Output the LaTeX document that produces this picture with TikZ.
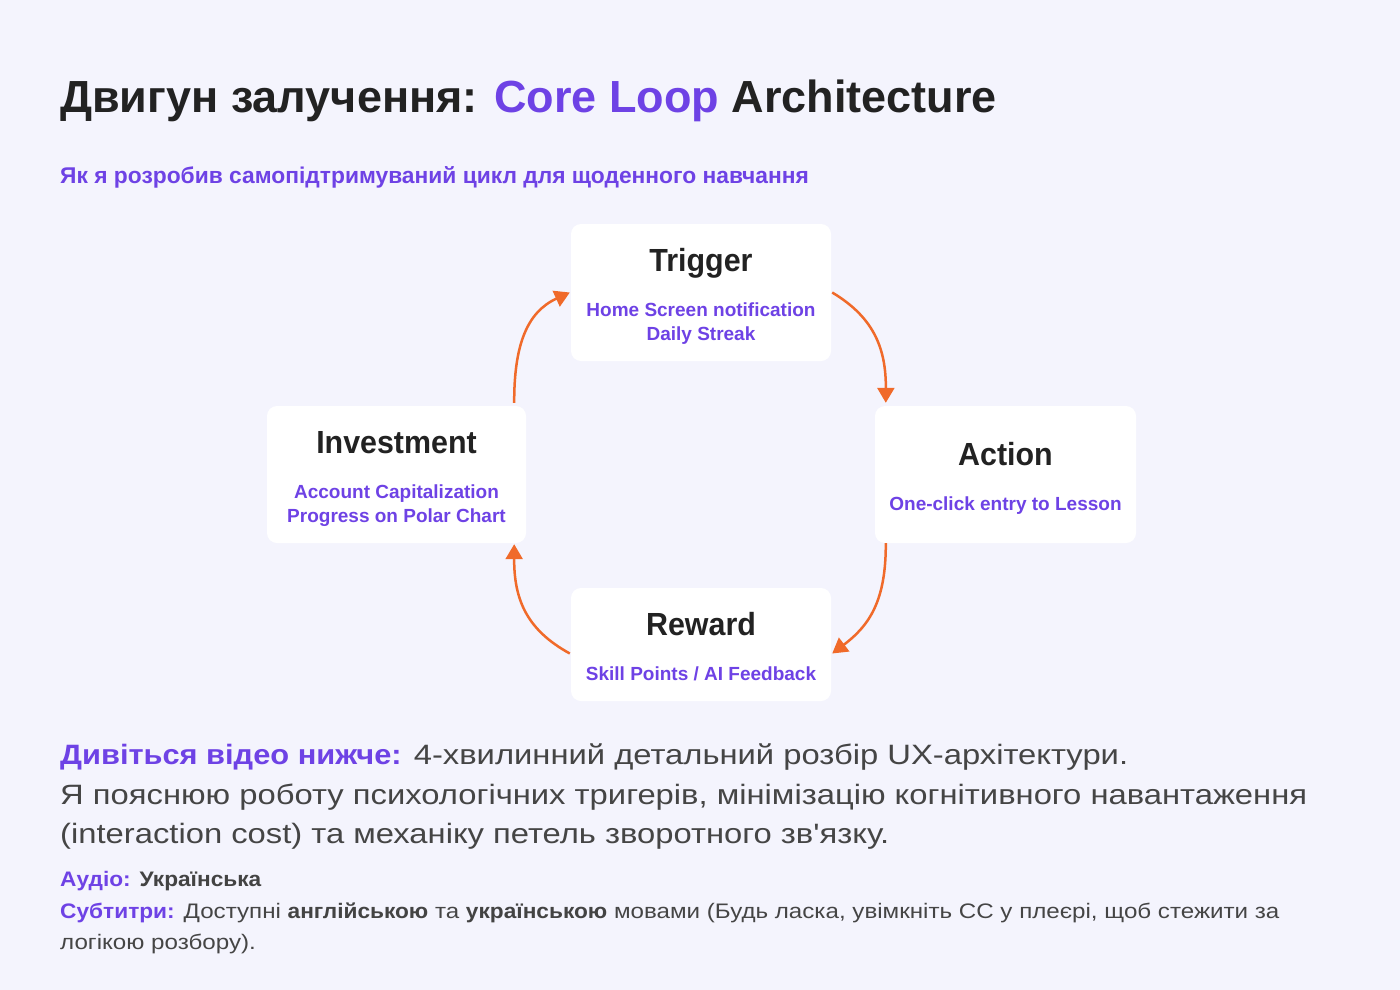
\documentclass[tikz,border=0pt]{standalone}
\usepackage{fontspec}
\setmainfont{Liberation Sans}[Ligatures=TeXOff]
\newfontfamily\bodyr{Liberation Sans}[FakeStretch=1.17,Ligatures=TeXOff]
\newfontfamily\smallr{Liberation Sans}[FakeStretch=1.15,Ligatures=TeXOff]
\newfontfamily\bodyb{Liberation Sans}[FakeStretch=1.10,Ligatures=TeXOff]
\newfontfamily\smallb{Liberation Sans}[FakeStretch=1.08,Ligatures=TeXOff]
\newfontfamily\ttlf{Liberation Sans}[FakeStretch=0.95]
\usetikzlibrary{arrows.meta,calc}
\definecolor{bg}{HTML}{F4F4FD}
\definecolor{pur}{HTML}{6E42E5}
\definecolor{org}{HTML}{F06A2A}
\definecolor{dark}{HTML}{222222}
\definecolor{body}{HTML}{454545}
\tikzset{
  card/.style={fill=white,draw=none,rounded corners=10pt,inner sep=0pt},
  ttl/.style={anchor=base,font=\ttlf\fontsize{32}{36}\selectfont\bfseries,text=dark,inner sep=0pt},
  sub/.style={anchor=base,font=\fontsize{19}{23}\selectfont\bfseries,text=pur,inner sep=0pt},
  flow/.style={draw=org,line width=2.5pt,-{Triangle[length=15pt,width=17pt]}},
  txt/.style={anchor=base west,inner sep=0pt},
  bodytxt/.style={txt,font=\bodyr\fontsize{28}{34}\selectfont,text=body},
  smalltxt/.style={txt,font=\smallr\fontsize{21}{26}\selectfont,text=body},
}
\newcommand{\hl}[1]{{\bodyb\bfseries\color{pur}#1}}
\newcommand{\shl}[1]{{\smallb\bfseries\color{pur}#1}}
\newcommand{\bd}[1]{{\smallb\bfseries\color{dark!85}#1}}
\begin{document}
\begin{tikzpicture}[x=1pt,y=-1pt]
\fill[bg] (0,0) rectangle (1400,990);
\useasboundingbox (0,0) rectangle (1400,990);
% title
\node[txt,font=\fontsize{45}{50}\selectfont\bfseries,text=dark] (title) at (60,112)
  {Двигун залучення: \textcolor{pur}{Core Loop} Architecture};
\node[txt,font=\fontsize{22.8}{26}\selectfont\bfseries,text=pur] (subtitle) at (60,183)
  {Як я розробив самопідтримуваний цикл для щоденного навчання};
% cards
\node[card,minimum width=260pt,minimum height=137pt] (T) at (701,292.5) {};
\node[card,minimum width=259pt,minimum height=137pt] (I) at (396.5,474.5) {};
\node[card,minimum width=261pt,minimum height=137pt] (A) at (1005.5,474.5) {};
\node[card,minimum width=260pt,minimum height=113pt] (R) at (701,644.5) {};
% card texts
\node[ttl] (Tt) at (701,271) {Trigger};
\node[sub] (Ts1) at (701,316) {Home Screen notification};
\node[sub] (Ts2) at (701,340) {Daily Streak};
\node[ttl] (It) at (396.5,453) {Investment};
\node[sub] (Is1) at (396.5,498) {Account Capitalization};
\node[sub] (Is2) at (396.5,522) {Progress on Polar Chart};
\node[ttl] (At) at (1005.5,465) {Action};
\node[sub] (As1) at (1005.5,510) {One-click entry to Lesson};
\node[ttl] (Rt) at (701,635) {Reward};
\node[sub] (Rs1) at (701,680) {Skill Points / AI Feedback};
% connectors
\coordinate (a1s) at ($(T.east)+(1,0)$);
\coordinate (a1e) at ($(A.north west)+(11,-3)$);
\draw[flow] (a1s) .. controls (875,318) and (886,350) .. (a1e);
\coordinate (a2s) at ($(A.south west)+(11,0)$);
\coordinate (a2e) at ($(R.east)+(1,9)$);
\draw[flow] (a2s) .. controls (886,600) and (870,625) .. (a2e);
\coordinate (a3s) at ($(R.west)+(-1,9)$);
\coordinate (a3e) at ($(I.south east)+(-12,1)$);
\draw[flow] (a3s) .. controls (527,630) and (514,600) .. (a3e);
\coordinate (a4s) at ($(I.north east)+(-12,-3)$);
\coordinate (a4e) at ($(T.west)+(-1,0)$);
\draw[flow] (a4s) .. controls (514,345) and (527,312) .. (a4e);
% bottom text
\node[bodytxt] (b1) at (60,764)
  {\hl{Дивіться відео нижче:} 4-хвилинний детальний розбір UX-архітектури.};
\node[bodytxt] (b2) at (60,804)
  {Я пояснюю роботу психологічних тригерів, мінімізацію когнітивного навантаження};
\node[bodytxt] (b3) at (60,843)
  {(interaction cost) та механіку петель зворотного зв'язку.};
\node[smalltxt] (c1) at (60,886)
  {\shl{Аудіо:} \bd{Українська}};
\node[smalltxt] (c2) at (60,918)
  {\shl{Субтитри:} Доступні \bd{англійською} та \bd{українською} мовами (Будь ласка, увімкніть СС у плеєрі, щоб стежити за};
\node[smalltxt] (c3) at (60,949)
  {логікою розбору).};
\end{tikzpicture}
\end{document}
